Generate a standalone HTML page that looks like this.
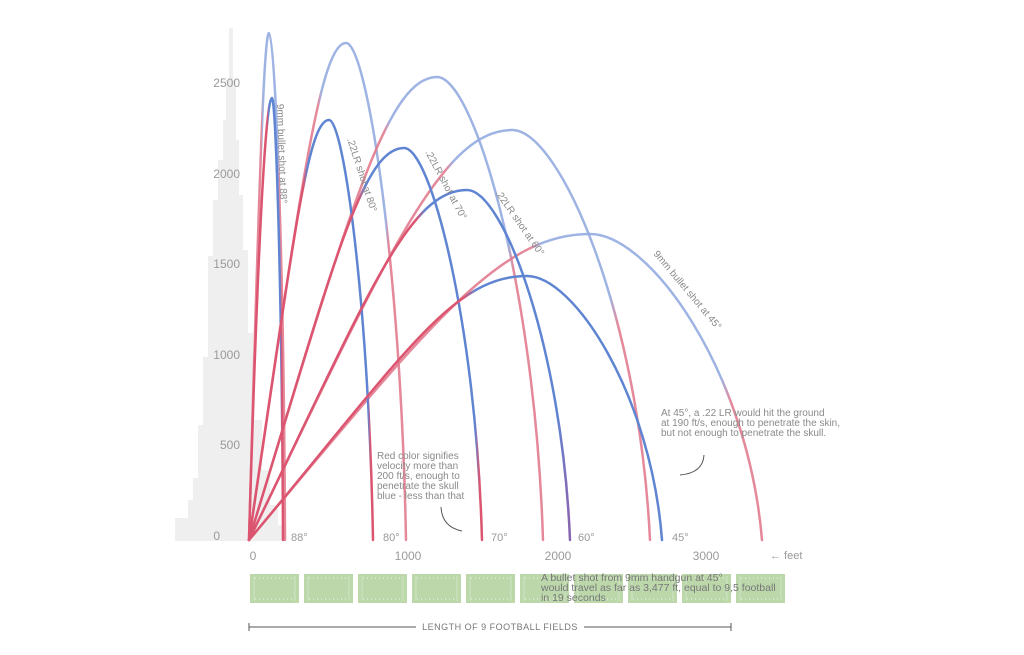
<!DOCTYPE html>
<html><head><meta charset="utf-8"><style>
html,body{margin:0;padding:0;background:#fff;}
svg{display:block;font-family:"Liberation Sans",sans-serif;}
</style></head><body>
<svg width="1024" height="655" viewBox="0 0 1024 655" xmlns="http://www.w3.org/2000/svg">
<defs>
<linearGradient id="g9_88" gradientUnits="userSpaceOnUse" x1="249" x2="285" y1="0" y2="0"><stop offset="0.34" stop-color="#e27b8e"/><stop offset="0.38" stop-color="#93abe0"/><stop offset="0.81" stop-color="#93abe0"/><stop offset="0.85" stop-color="#e27b8e"/></linearGradient>
<linearGradient id="g9_80" gradientUnits="userSpaceOnUse" x1="249" x2="406" y1="0" y2="0"><stop offset="0.44" stop-color="#e27b8e"/><stop offset="0.46" stop-color="#93abe0"/><stop offset="0.87" stop-color="#93abe0"/><stop offset="0.89" stop-color="#e27b8e"/></linearGradient>
<linearGradient id="g9_70" gradientUnits="userSpaceOnUse" x1="249" x2="543" y1="0" y2="0"><stop offset="0.46" stop-color="#e27b8e"/><stop offset="0.48" stop-color="#93abe0"/><stop offset="0.88" stop-color="#93abe0"/><stop offset="0.90" stop-color="#e27b8e"/></linearGradient>
<linearGradient id="g9_60" gradientUnits="userSpaceOnUse" x1="249" x2="650" y1="0" y2="0"><stop offset="0.49" stop-color="#e27b8e"/><stop offset="0.51" stop-color="#93abe0"/><stop offset="0.90" stop-color="#93abe0"/><stop offset="0.92" stop-color="#e27b8e"/></linearGradient>
<linearGradient id="g9_45" gradientUnits="userSpaceOnUse" x1="249" x2="762" y1="0" y2="0"><stop offset="0.55" stop-color="#e27b8e"/><stop offset="0.57" stop-color="#93abe0"/><stop offset="0.92" stop-color="#93abe0"/><stop offset="0.94" stop-color="#e27b8e"/></linearGradient>
<linearGradient id="g2_88" gradientUnits="userSpaceOnUse" x1="249" x2="283" y1="0" y2="0"><stop offset="0.54" stop-color="#dc5570"/><stop offset="0.58" stop-color="#5f84d2"/><stop offset="0.92" stop-color="#5f84d2"/><stop offset="0.96" stop-color="#dc5570"/></linearGradient>
<linearGradient id="g2_80" gradientUnits="userSpaceOnUse" x1="249" x2="373" y1="0" y2="0"><stop offset="0.44" stop-color="#dc5570"/><stop offset="0.47" stop-color="#5f84d2"/><stop offset="0.96" stop-color="#5f84d2"/><stop offset="0.98" stop-color="#dc5570"/></linearGradient>
<linearGradient id="g2_70" gradientUnits="userSpaceOnUse" x1="249" x2="482" y1="0" y2="0"><stop offset="0.47" stop-color="#dc5570"/><stop offset="0.50" stop-color="#5f84d2"/><stop offset="0.97" stop-color="#5f84d2"/><stop offset="0.99" stop-color="#dc5570"/></linearGradient>
<linearGradient id="g2_60" gradientUnits="userSpaceOnUse" x1="249" x2="570" y1="0" y2="0"><stop offset="0.52" stop-color="#dc5570"/><stop offset="0.55" stop-color="#5f84d2"/><stop offset="0.96" stop-color="#5f84d2"/><stop offset="1" stop-color="#8a64b0"/></linearGradient>
<linearGradient id="g2_45" gradientUnits="userSpaceOnUse" x1="249" x2="662" y1="0" y2="0"><stop offset="0.52" stop-color="#dc5570"/><stop offset="0.55" stop-color="#5f84d2"/><stop offset="1" stop-color="#5f84d2"/></linearGradient>
</defs>

<polygon fill="#efefef" points="175,541 175,518 188,518 188,500 193,500 193,478 198,478 198,425 203,425 203,357 208,357 208,256 213,256 213,200 218,200 218,160 223,160 223,120 226,120 226,80 229,80 229,28 233,28 233,80 236,80 236,140 239,140 239,195 243,195 243,250 248,250 248,333 253,333 253,420 262,420 262,470 270,470 270,505 278,505 278,525 283,525 283,541"/>

<g fill="#9a9a9a" font-size="12" text-anchor="end">
<text x="240" y="87">2500</text><text x="240" y="178">2000</text><text x="240" y="268">1500</text>
<text x="240" y="359">1000</text><text x="240" y="449">500</text><text x="220" y="540">0</text>
</g>

<g fill="none" stroke-width="2.5" stroke-linecap="round">
<path stroke="url(#g9_88)" opacity="0.9" d="M249,540 C259,185 264,33 269,33 C275,33 284,261 285,540"/>
<path stroke="url(#g9_80)" opacity="0.9" d="M249,540 C300,192 320,43 346,43 C367,43 401,267 406,540"/>
<path stroke="url(#g9_70)" opacity="0.9" d="M249,540 C348,216 386,77 437,77 C474,77 535,285 543,540"/>
<path stroke="url(#g9_60)" opacity="0.9" d="M249,540 C388,253 442,130 512,130 C560,130 639,314 650,540"/>
<path stroke="url(#g9_45)" opacity="0.9" d="M249,540 C429,326 498,234 590,234 C650,234 748,372 762,540"/>
<path stroke="url(#g2_88)" d="M249,540 C258,231 266,98 272,98 C276,98 282,297 283,540"/>
<path stroke="url(#g2_80)" d="M249,540 C293,246 307,120 329,120 C344,120 369,309 373,540"/>
<path stroke="url(#g2_70)" d="M249,540 C333,266 362,148 404,148 C431,148 476,324 482,540"/>
<path stroke="url(#g2_60)" d="M249,540 C368,295 408,190 467,190 C503,190 562,347 570,540"/>
<path stroke="url(#g2_45)" d="M249,540 C404,355 452,276 527,276 C574,276 651,395 662,540"/>
</g>

<g fill="#8a8a8a" font-size="10">
<text transform="translate(277,104) rotate(88)">9mm bullet shot at 88°</text>
<text transform="translate(347,139) rotate(72)">.22LR shot at 80°</text>
<text transform="translate(425,152) rotate(62)">.22LR shot at 70°</text>
<text transform="translate(495,193) rotate(55)">.22LR shot at 60°</text>
<text transform="translate(653,254) rotate(50)">9mm bullet shot at 45°</text>
</g>

<g fill="#8a8a8a" font-size="10">
<text x="377" y="459">Red color signifies</text>
<text x="377" y="469">velocity more than</text>
<text x="377" y="479">200 ft/s, enough to</text>
<text x="377" y="489">penetrate the skull</text>
<text x="377" y="499">blue - less than that</text>
<text x="661" y="416">At 45°, a .22 LR would hit the ground</text>
<text x="661" y="426">at 190 ft/s, enough to penetrate the skin,</text>
<text x="661" y="436">but not enough to penetrate the skull.</text>
</g>
<path d="M441,507 Q442,527 462,531" fill="none" stroke="#555" stroke-width="1"/>
<path d="M704,455 Q703,473 680,475" fill="none" stroke="#555" stroke-width="1"/>

<g fill="#9a9a9a" font-size="11">
<text x="291" y="541">88°</text><text x="383" y="541">80°</text><text x="491" y="541">70°</text>
<text x="578" y="541">60°</text><text x="672" y="541">45°</text>
</g>
<g fill="#9a9a9a" font-size="12" text-anchor="middle">
<text x="253" y="560">0</text><text x="408" y="560">1000</text><text x="558" y="560">2000</text><text x="706" y="560">3000</text>
</g>
<text x="770" y="559" fill="#9a9a9a" font-size="11">← feet</text>

<g>
<g id="f"><rect x="250" y="574" width="49" height="29" fill="#bcd8ab"/>
<line x1="255" y1="578" x2="294" y2="578" stroke="#fff" stroke-width="1" stroke-dasharray="1,3" opacity="0.8"/>
<line x1="255" y1="599" x2="294" y2="599" stroke="#fff" stroke-width="1" stroke-dasharray="1,3" opacity="0.8"/>
<line x1="254" y1="576" x2="254" y2="601" stroke="#fff" stroke-width="0.5" opacity="0.6"/>
<line x1="295" y1="576" x2="295" y2="601" stroke="#fff" stroke-width="0.5" opacity="0.6"/></g>
<use href="#f" x="54"/><use href="#f" x="108"/><use href="#f" x="162"/><use href="#f" x="216"/>
<use href="#f" x="270"/><use href="#f" x="324"/><use href="#f" x="378"/><use href="#f" x="432"/><use href="#f" x="486"/>
</g>
<g fill="#777" font-size="10.5">
<text x="541" y="581">A bullet shot from 9mm handgun at 45°</text>
<text x="541" y="591">would travel as far as 3,477 ft, equal to 9,5 football</text>
<text x="541" y="601">in 19 seconds</text>
</g>

<g stroke="#555" stroke-width="1">
<line x1="249" y1="627" x2="416" y2="627"/><line x1="584" y1="627" x2="731" y2="627"/>
<line x1="249" y1="623" x2="249" y2="631"/><line x1="731" y1="623" x2="731" y2="631"/>
</g>
<text x="500" y="630" fill="#777" font-size="9" text-anchor="middle" letter-spacing="0.5">LENGTH OF 9 FOOTBALL FIELDS</text>
</svg>
</body></html>
